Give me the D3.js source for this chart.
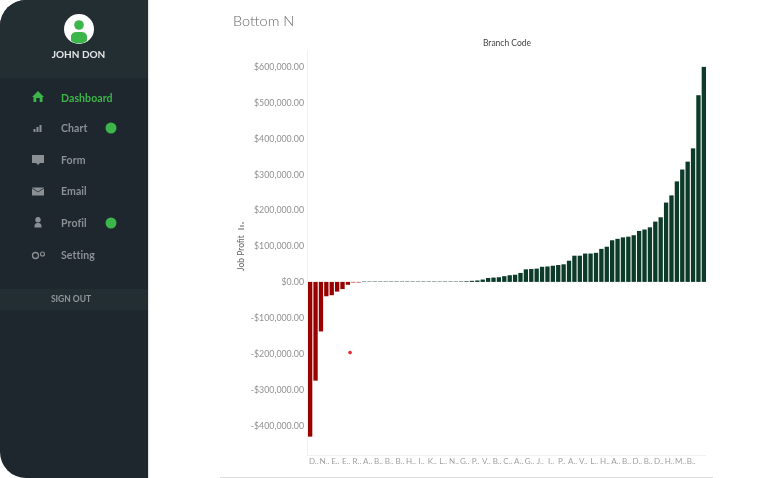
<!DOCTYPE html>
<html><head><meta charset="utf-8">
<script src="https://cdn.jsdelivr.net/npm/d3@7/dist/d3.min.js"></script>
<style>html,body{margin:0;padding:0;background:#fff;overflow:hidden}svg{display:block;filter:blur(.4px)}text{font-family:Lato,sans-serif}</style>
</head><body><svg id="c" width="768" height="478"></svg>
<script>
const jobProfit=[-431000,-275000,-138000,-40000,-37000,-27000,-20000,-8000,-1500,-1500,
 1100,1100,1100,1100,1100,1100,1100,1100,1100,1100,1100,1100,1100,1100,1100,1100,1100,1100,1300,1800,3000,4000,6500,
 11000,12000,13000,16000,18600,20000,25000,35000,36000,37000,42000,43000,45000,47000,49000,59000,73000,73000,79000,79000,81000,92000,98000,116000,120000,124000,126000,130000,142000,146000,152000,168000,180000,
 221000,241000,280000,313000,335000,372000,520000,599000];
const branchLabels=["D..","N..","E..","E..","R..","A..","B..","B..","B..","H..","I..","K..","L..","N..","G..","P..","V..","B..","C..","A..","G..","J..","I..","P..","A..","V..","L..","H..","A..","B..","D..","B..","D..","H..","M..","B.."];
const yTicks=[600000,500000,400000,300000,200000,100000,0,-100000,-200000,-300000,-400000];
const outlierIndex=[7];
const outlierValue=[-197000];
const menuLabels=["Dashboard","Chart","Form","Email","Profil","Setting"];
const menuBadges=[false,true,false,false,true,false];

const svg=d3.select("#c");
// sidebar
const side=svg.append("g");
side.append("path").attr("d","M0 26A26 26 0 0 1 26 0H148V478H26A26 26 0 0 1 0 452Z").attr("fill","#1e272e");
side.append("path").attr("d","M0 26A26 26 0 0 1 26 0H148V78H0Z").attr("fill","#232e33");
side.append("rect").attr("x",0).attr("y",289).attr("width",148).attr("height",21).attr("fill","#232e33");
side.append("rect").attr("x",148).attr("y",0).attr("width",1.2).attr("height",478).attr("fill","#e4e4e4");
side.append("circle").attr("cx",79).attr("cy",29).attr("r",15).attr("fill","#fff");
side.append("circle").attr("cx",79).attr("cy",25).attr("r",4.8).attr("fill","#3cb64a");
side.append("path").attr("d","M71 44V38A5 5 0 0 1 76 32H82A5 5 0 0 1 87 38V41A15 15 0 0 1 71 41Z").attr("fill","#3cb64a");
side.append("text").attr("x",78.5).attr("y",57.5).attr("text-anchor","middle").attr("font-size",10).attr("font-weight",700).attr("fill","#e3e5e6").text("JOHN DON");
side.append("text").attr("x",71).attr("y",301.5).attr("text-anchor","middle").attr("font-size",8.5).attr("font-weight",700).attr("fill","#8f979b").text("SIGN OUT");
const menuY=d3.scaleOrdinal().domain(menuLabels).range([98,128,160,191.5,223,255]);
const grey="#8b9094",green="#3cb64a";
const icons={
 Dashboard:"M32 97L38 91L44 97H42.5V102H39.7V98H36.3V102H33.5V97Z",
 Chart:"M33.5 129H35.5V132H33.5ZM36.500 127H38.500V132H36.500ZM39.500 125H41.500V132H39.500Z",
 Form:"M32 155H44V163H40L38 165L36 163H32Z",
 Email:"M32 187.500H44V195.500H32Z",
 Profil:"M38 217A2.8 2.8 0 1 1 37.99 217ZM34.500 227.500V225.500A3 3 0 0 1 37 223H39A3 3 0 0 1 41.500 225.500V227.500Z"};
menuLabels.forEach((m,i)=>{
 const y=menuY(m), col=i==0?green:grey;
 side.append("text").attr("x",61).attr("y",y+3.6).attr("font-size",10.5).attr("font-weight",700).attr("letter-spacing",.1).attr("fill",col).text(m);
 if(menuBadges[i]) side.append("circle").attr("cx",111).attr("cy",y).attr("r",5.5).attr("fill",green);
 if(icons[m]) side.append("path").attr("d",icons[m]).attr("fill",col);
 if(m=="Email") side.append("path").attr("d","M32 188L38 192L44 188").attr("fill","none").attr("stroke","#1e272e").attr("stroke-width",.8);
 if(m=="Setting"){
  side.append("circle").attr("cx",35.5).attr("cy",255.500).attr("r",3).attr("fill","none").attr("stroke",grey).attr("stroke-width",1.3);
  side.append("circle").attr("cx",42.5).attr("cy",254).attr("r",2).attr("fill","none").attr("stroke",grey).attr("stroke-width",1.1);
 }
});
// chart
const x=d3.scaleBand().domain(d3.range(jobProfit.length)).range([308,706]).paddingInner(.2).paddingOuter(0);
const y=d3.scaleLinear().domain([-400000,600000]).range([425.5,66.5]);
svg.append("text").attr("x",233).attr("y",26).attr("font-size",14.5).attr("font-weight",300).attr("fill","#666").text("Bottom N");
svg.append("text").attr("x",507).attr("y",46).attr("text-anchor","middle").attr("font-size",8.5).attr("fill","#444").text("Branch Code");
svg.append("line").attr("x1",307.500).attr("x2",307.500).attr("y1",50).attr("y2",455).attr("stroke","#f0f0f0");
svg.append("line").attr("x1",307).attr("x2",706).attr("y1",455.500).attr("y2",455.500).attr("stroke","#f0f0f0");
svg.append("line").attr("x1",220).attr("x2",713).attr("y1",477.500).attr("y2",477.500).attr("stroke","#dcdcdc");
const ya=svg.append("g").attr("transform","translate(307,0)").call(d3.axisLeft(y).tickValues(yTicks).tickSize(0).tickPadding(3).tickFormat(v=>(v<0?"-$":"$")+d3.format(",.2f")(Math.abs(v))));
ya.select(".domain").remove();
ya.selectAll("text").attr("font-size",8.8).attr("fill","#909090").style("font-family","Lato,sans-serif");
const xa=svg.append("g").attr("transform","translate(0,455)").call(d3.axisBottom(x).tickValues(d3.range(0,branchLabels.length*2,2)).tickSize(0).tickPadding(3).tickFormat(i=>branchLabels[i/2]));
xa.select(".domain").remove();
xa.selectAll("text").attr("dx",3.6).attr("font-size",8).attr("fill","#a0a0a0").style("font-family","Lato,sans-serif");
svg.append("text").attr("transform","translate(244,271) rotate(-90)").attr("font-size",8.5).attr("fill","#666").text("Job Profit");
svg.append("path").attr("d","M238 228.500H244V229.500H238ZM240 225.500H244V226.500H240ZM242 222.500H244V223.500H242Z").attr("fill","#666");
svg.append("g").selectAll("rect").data(jobProfit).join("rect")
 .attr("x",(d,i)=>x(i)).attr("width",x.bandwidth())
 .attr("y",d=>y(Math.max(d,0))).attr("height",d=>Math.abs(y(d)-y(0)))
 .attr("fill",d=>d<0?"#990000":"#0d3b2a");
svg.append("g").selectAll("circle").data(outlierValue).join("circle")
 .attr("cx",(d,i)=>x(outlierIndex[i])+x.step()*.8).attr("cy",d=>y(d)).attr("r",1.8).attr("fill","#e8262c");
</script></body></html>
